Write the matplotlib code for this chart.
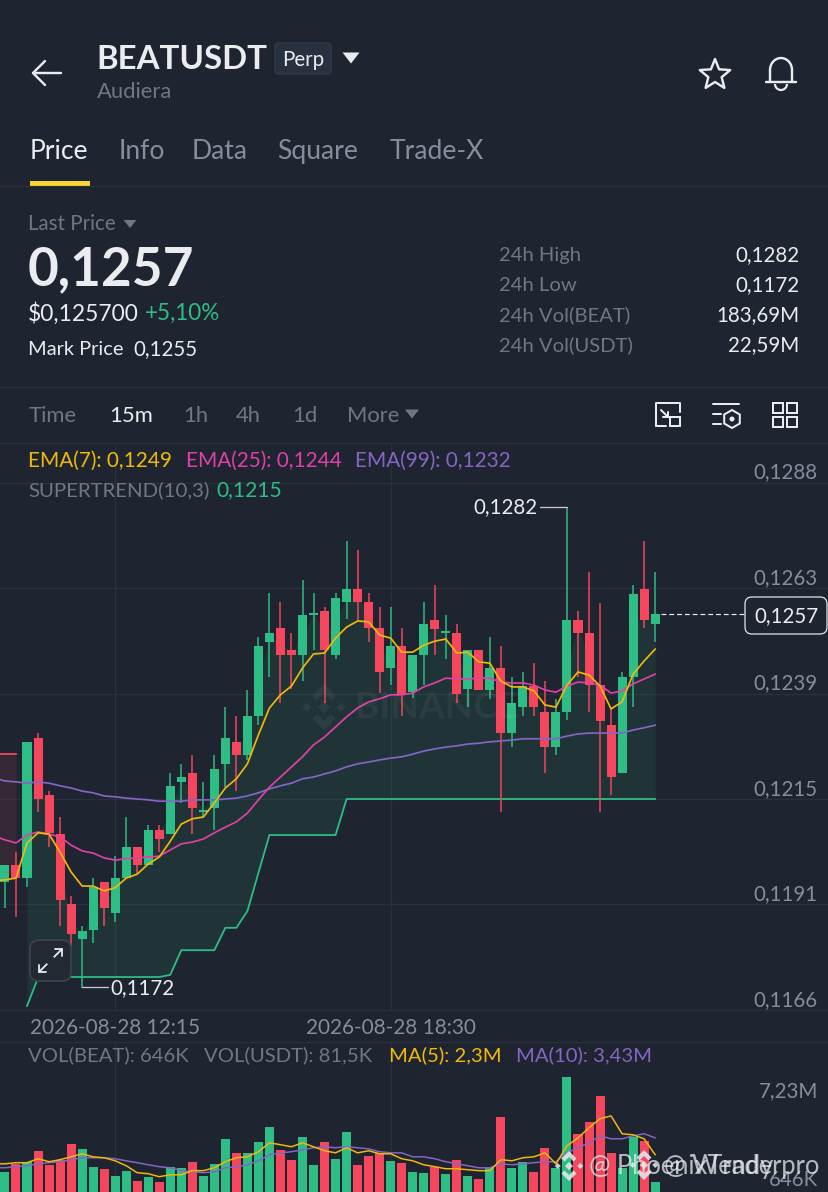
import numpy as np
import matplotlib
matplotlib.use('Agg')
import matplotlib.pyplot as plt
from matplotlib.patches import FancyBboxPatch, Polygon, Rectangle, Circle, Arc

plt.rcParams['font.family'] = ['Lato', 'DejaVu Sans']

# candles, first one is just off screen
opens = [0.11960, 0.119612, 0.119998, 0.119703, 0.122888, 0.121591, 0.120704, 0.119111, 0.118315, 0.118520, 0.119612, 0.118907, 0.119703, 0.120408, 0.119998, 0.120795, 0.120704, 0.121887, 0.122092, 0.121204, 0.121295, 0.122296, 0.122797, 0.122501, 0.123388, 0.125072, 0.125390, 0.124890, 0.124776, 0.125686, 0.125777, 0.124776, 0.125982, 0.126278, 0.125982, 0.125390, 0.124480, 0.124981, 0.123934, 0.124776, 0.125572, 0.125277, 0.125277, 0.124003, 0.124890, 0.123980, 0.124480, 0.123002, 0.123593, 0.124071, 0.123479, 0.122683, 0.123479, 0.125572, 0.125277, 0.124094, 0.123184, 0.122092, 0.124276, 0.126278, 0.125481]
highs = [0.11980, 0.119998, 0.120294, 0.122797, 0.123002, 0.121682, 0.121091, 0.119293, 0.118611, 0.119703, 0.119612, 0.120203, 0.121091, 0.120408, 0.120909, 0.120909, 0.122092, 0.122296, 0.122501, 0.121887, 0.122501, 0.123593, 0.123388, 0.123980, 0.125186, 0.126187, 0.125982, 0.125277, 0.126482, 0.126187, 0.125868, 0.126187, 0.127370, 0.127165, 0.126187, 0.125868, 0.125868, 0.125390, 0.124776, 0.125982, 0.126369, 0.125686, 0.125481, 0.124890, 0.124890, 0.125186, 0.124981, 0.124276, 0.124389, 0.124594, 0.124185, 0.123775, 0.128150, 0.125777, 0.126664, 0.125959, 0.123548, 0.124389, 0.126369, 0.127370, 0.126664]
lows = [0.11940, 0.119020, 0.118816, 0.119498, 0.121204, 0.120408, 0.118611, 0.118156, 0.117200, 0.118224, 0.118611, 0.118702, 0.119703, 0.119794, 0.119998, 0.120294, 0.120704, 0.121409, 0.120704, 0.121091, 0.120795, 0.121773, 0.121682, 0.122387, 0.123184, 0.124276, 0.123684, 0.124003, 0.124185, 0.124890, 0.123684, 0.124685, 0.125595, 0.125572, 0.125072, 0.123912, 0.124094, 0.123388, 0.123798, 0.124094, 0.124776, 0.124685, 0.123684, 0.123593, 0.123980, 0.123775, 0.121204, 0.122683, 0.123388, 0.123388, 0.122092, 0.122501, 0.123297, 0.124276, 0.123479, 0.121204, 0.121591, 0.122092, 0.123593, 0.125390, 0.125072]
closes = [0.11961, 0.119998, 0.119703, 0.122797, 0.121500, 0.120727, 0.119202, 0.118429, 0.118497, 0.119498, 0.119020, 0.119703, 0.120408, 0.119998, 0.120795, 0.120590, 0.121796, 0.122001, 0.121295, 0.121250, 0.122183, 0.122888, 0.122501, 0.123388, 0.124981, 0.125277, 0.124776, 0.124776, 0.125686, 0.125732, 0.124890, 0.126073, 0.126278, 0.125982, 0.125390, 0.124389, 0.124981, 0.123889, 0.124776, 0.125481, 0.125368, 0.125322, 0.123889, 0.124890, 0.123980, 0.124480, 0.123002, 0.123684, 0.124071, 0.123593, 0.122683, 0.123479, 0.125572, 0.125277, 0.124094, 0.123275, 0.122001, 0.124276, 0.126164, 0.125572, 0.125700]

# moving averages, in units of 0.0001
ema7 = [1196.4, 1196.6, 1197.0, 1205.0, 1207.3, 1207.0, 1202.9, 1198.4, 1195.2, 1195.2, 1194.1, 1194.8, 1197.0, 1197.9, 1200.2, 1201.8, 1205.4, 1209.3, 1210.5, 1210.9, 1214.1, 1217.5, 1219.6, 1223.0, 1229.6, 1235.7, 1238.7, 1240.7, 1244.8, 1248.0, 1248.2, 1251.6, 1254.1, 1255.5, 1255.3, 1252.3, 1251.6, 1248.4, 1248.4, 1250.0, 1250.9, 1251.4, 1248.2, 1248.4, 1246.2, 1245.9, 1241.8, 1240.5, 1240.5, 1239.6, 1236.4, 1235.9, 1240.9, 1243.9, 1243.2, 1240.7, 1235.5, 1237.1, 1243.4, 1246.4, 1249.1]
ema25 = [1206.6, 1205.7, 1205.0, 1206.8, 1207.5, 1207.0, 1206.4, 1204.5, 1203.2, 1202.7, 1201.6, 1201.1, 1201.4, 1201.6, 1201.8, 1202.0, 1203.4, 1204.8, 1205.2, 1205.9, 1207.3, 1208.6, 1209.8, 1211.8, 1214.8, 1217.7, 1220.0, 1222.3, 1224.6, 1227.3, 1229.1, 1231.4, 1233.7, 1235.7, 1237.1, 1237.8, 1238.7, 1238.7, 1239.1, 1240.5, 1241.4, 1242.5, 1242.3, 1242.3, 1242.5, 1242.5, 1241.6, 1241.4, 1241.4, 1240.9, 1239.8, 1239.3, 1240.7, 1241.6, 1241.4, 1240.9, 1239.1, 1239.6, 1241.2, 1242.3, 1243.4]
ema99 = [1219.8, 1219.1, 1218.9, 1218.6, 1218.9, 1218.6, 1218.0, 1217.5, 1216.8, 1216.4, 1215.7, 1215.5, 1215.2, 1215.0, 1214.8, 1214.5, 1214.5, 1214.5, 1214.8, 1214.8, 1214.8, 1215.0, 1215.2, 1215.7, 1216.4, 1217.3, 1218.0, 1218.6, 1219.6, 1220.0, 1220.7, 1221.4, 1222.3, 1223.0, 1223.4, 1223.9, 1224.3, 1224.6, 1225.2, 1225.9, 1226.4, 1226.8, 1227.1, 1227.5, 1227.7, 1228.0, 1228.2, 1228.4, 1228.7, 1228.7, 1228.7, 1228.7, 1229.3, 1229.8, 1230.0, 1230.0, 1230.0, 1230.0, 1230.7, 1231.2, 1231.8]
st_down = [1225.2, 1225.2, 1225.2]
st_up = [1167.9, 1174.3] + [1174.5] * 11 + [1175.0] + [1180.6] * 4 + [1185.7] * 2 + [1189.5, 1198.2] + [1206.8] * 7 + [1215.0] * 29

# volume in millions
volume = [1.20, 1.27, 1.77, 1.90, 2.59, 1.71, 2.03, 3.03, 2.71, 1.59, 1.46, 1.02, 1.34, 0.71, 0.96, 0.65, 1.59, 1.52, 1.90, 1.02, 1.77, 3.34, 2.46, 2.46, 3.15, 4.09, 2.65, 2.03, 3.47, 1.71, 3.15, 2.09, 3.78, 1.71, 2.28, 2.46, 1.96, 1.84, 1.27, 1.21, 1.59, 1.15, 2.03, 1.02, 0.83, 1.59, 4.72, 1.52, 1.90, 1.27, 2.78, 1.52, 7.23, 3.66, 4.41, 6.04, 2.46, 1.52, 3.47, 3.21, 0.646]
ma5 = [1.77, 1.77, 1.84, 1.84, 2.09, 1.90, 2.03, 2.21, 2.40, 2.21, 2.15, 1.96, 1.65, 1.21, 1.15, 0.96, 1.08, 1.08, 1.34, 1.34, 1.52, 1.90, 2.15, 2.21, 2.53, 3.09, 2.97, 2.84, 3.09, 2.84, 2.59, 2.46, 2.78, 2.46, 2.59, 2.40, 2.40, 2.09, 1.96, 1.71, 1.59, 1.46, 1.46, 1.40, 1.34, 1.34, 2.03, 1.96, 2.15, 2.21, 2.46, 1.77, 2.90, 3.40, 4.03, 4.60, 4.78, 3.66, 3.59, 3.34, 2.34]
ma10 = [1.52, 1.52, 1.59, 1.65, 1.77, 1.84, 1.90, 2.03, 2.15, 2.15, 2.15, 2.09, 1.96, 1.84, 1.71, 1.59, 1.52, 1.34, 1.27, 1.21, 1.27, 1.52, 1.59, 1.71, 1.96, 2.34, 2.46, 2.53, 2.65, 2.78, 2.84, 2.78, 2.84, 2.78, 2.71, 2.53, 2.46, 2.46, 2.21, 2.21, 2.09, 1.90, 1.77, 1.65, 1.52, 1.52, 1.77, 1.71, 1.77, 1.84, 1.90, 1.90, 2.46, 2.78, 3.09, 3.53, 3.34, 3.34, 3.53, 3.66, 3.40]

price_ticks = [0.1287, 0.1263, 0.1239, 0.1215, 0.1191, 0.1167]
price_labels = ['0,1288', '0,1263', '0,1239', '0,1215', '0,1191', '0,1166']
time_ticks = [8, 33]
time_labels = ['2026-08-28 12:15', '2026-08-28 18:30']
vol_ticks = [7.23, 0.646]
vol_labels = ['7,23M', '646K']
stat_names = ['24h High', '24h Low', '24h Vol(BEAT)', '24h Vol(USDT)']
stat_values = ['0,1282', '0,1172', '183,69M', '22,59M']

BG = '#1f2530'
GRID = '#2b313c'
GREEN = '#2ebd85'
RED = '#f6465d'
YELLOW = '#f0b90b'
PINK = '#e040a8'
PURPLE = '#8466c4'
GREY = '#848e9c'
DIM = '#6f7785'
WHITE = '#eaecef'

W, H = 828, 1192
fig = plt.figure(figsize=(W / 72, H / 72), dpi=72, facecolor=BG)

x = np.arange(-3, 58)
opens, highs, lows, closes = map(np.array, (opens, highs, lows, closes))
ema7 = np.array(ema7) / 1e4
ema25 = np.array(ema25) / 1e4
ema99 = np.array(ema99) / 1e4
st_down = np.array(st_down) / 1e4
st_up = np.array(st_up) / 1e4
body_mid = (opens + closes) / 2
up = closes >= opens
colors = np.where(up, GREEN, RED)

px_left = -27 / 11.02
px_right = (W - 27) / 11.02


def price_at(y):
    return 0.1215 + (799 - y) * 2.275e-5


# ---------- price pane ----------
ax = fig.add_axes([0, 1 - 1011 / H, 1, 568 / H], facecolor='none')
ax.set_xlim(px_left, px_right)
ax.set_ylim(price_at(1011), price_at(443))
ax.set_yticks(price_ticks)
ax.set_xticks(time_ticks)
ax.grid(True, color=GRID, lw=1.2)
ax.set_axisbelow(True)
ax.tick_params(length=0, labelleft=False, labelbottom=False)
for s in ax.spines.values():
    s.set_visible(False)

# supertrend band runs up to the middle of the candle body
ax.fill_between(x[:3], st_down, body_mid[:3], color=RED, alpha=0.1, lw=0)
ax.fill_between(x[3:], st_up, body_mid[3:], color=GREEN, alpha=0.1, lw=0)
ax.plot(x[:3], st_down, color=RED, lw=1.8)
ax.plot(x[3:], st_up, color=GREEN, lw=1.8)

ax.vlines(x, lows, highs, colors=colors, lw=1.5)
ax.bar(x, np.abs(closes - opens), bottom=np.minimum(opens, closes), width=0.82, color=colors)

ax.plot(x, ema99, color=PURPLE, lw=1.7)
ax.plot(x, ema25, color=PINK, lw=1.7)
ax.plot(x, ema7, color=YELLOW, lw=1.7)

# last price dashed line
ax.plot([x[-1] + 0.5, (744 - 27) / 11.02], [closes[-1]] * 2, color=WHITE, lw=1.2, ls=(0, (4, 2.5)))

for tick, label in zip(price_ticks, price_labels):
    ax.annotate(label, (1, tick), xycoords=('axes fraction', 'data'), xytext=(-10, 10),
                textcoords='offset pixels', ha='right', va='center', fontsize=20.5, color=GREY)

# ---------- volume pane ----------
vax = fig.add_axes([0, 0, 1, 150 / H], facecolor='none')
vax.set_xlim(px_left, px_right)
vax.set_ylim(0, 9.42)
vax.set_xticks(time_ticks)
vax.set_yticks([])
vax.grid(True, axis='x', color=GRID, lw=1.2)
vax.set_axisbelow(True)
vax.tick_params(length=0, labelbottom=False)
for s in vax.spines.values():
    s.set_visible(False)
vax.bar(x, volume, width=0.82, color=colors)
vax.plot(x, ma10, color=PURPLE, lw=1.5)
vax.plot(x, ma5, color=YELLOW, lw=1.5)

# ---------- everything else, in screen pixels ----------
ui = fig.add_axes([0, 0, 1, 1], facecolor='none')
ui.set_xlim(0, W)
ui.set_ylim(H, 0)
ui.axis('off')


def txt(px, py, s, size=20, color=WHITE, weight='normal', ha='left', **kw):
    return ui.text(px, py + 1.5, s, fontsize=size, color=color, fontweight=weight, ha=ha, va='center', **kw)


def line(xs, ys, color=WHITE, lw=2.2, **kw):
    ui.plot(xs, ys, color=color, lw=lw, solid_capstyle='round', solid_joinstyle='round', **kw)


def tri(px, py, w, h, color=WHITE):
    ui.add_patch(Polygon([(px - w / 2, py - h / 2), (px + w / 2, py - h / 2), (px, py + h / 2)], color=color, lw=0))


def logo(px, py, r, alpha, color=WHITE):
    # diamond mark: centre, two side dots, top and bottom chevrons
    for cx, cy, k in ((0, 0, 0.27), (-0.75, 0, 0.2), (0.75, 0, 0.2)):
        ui.add_patch(Polygon([(px + cx * r, py - k * r), (px + cx * r + k * r, py), (px + cx * r, py + k * r),
                              (px + cx * r - k * r, py)], color=color, alpha=alpha, lw=0))
    for sgn in (-1, 1):
        ui.add_patch(Polygon([(px, py + sgn * r), (px + 0.5 * r, py + sgn * 0.5 * r), (px + 0.3 * r, py + sgn * 0.3 * r),
                              (px, py + sgn * 0.6 * r), (px - 0.3 * r, py + sgn * 0.3 * r), (px - 0.5 * r, py + sgn * 0.5 * r)],
                             color=color, alpha=alpha, lw=0))


for yy in (186, 387, 443, 1042):
    ui.plot([0, W], [yy, yy], color=GRID, lw=1.2)

# header
line([33, 61], [73, 73], lw=2.4)
line([45, 33, 45], [61, 73, 85], lw=2.4)
txt(96, 58, 'BEATUSDT', 33, WHITE, 'bold')
ui.add_patch(FancyBboxPatch((275, 43), 56, 31, boxstyle='round,pad=0,rounding_size=3', fc='#283140', ec='#333c49', lw=1.2))
txt(303, 58, 'Perp', 20.5, WHITE, ha='center')
tri(351, 58, 17, 11)
txt(97, 91, 'Audiera', 22, DIM)
# star
ang = np.deg2rad(np.arange(10) * 36 - 90)
rad = np.where(np.arange(10) % 2 == 0, 16, 7)
ui.add_patch(Polygon(np.c_[715 + rad * np.cos(ang), 75 + rad * np.sin(ang)], fill=False, ec=WHITE, lw=2.4, joinstyle='round'))
# bell
bt = np.linspace(np.pi, 2 * np.pi, 20)
bx = np.r_[770, 770, 781 + 11 * np.cos(bt), 792, 792]
by = np.r_[81, 71, 70 + 12 * np.sin(bt), 71, 81]
line(bx, by, lw=2.4)
line([766, 796], [82, 82], lw=2.4)
ui.add_patch(Arc((781, 84), 12, 12, theta1=0, theta2=180, ec=WHITE, lw=2.2))

# tabs
for px, s, c in ((30, 'Price', WHITE), (119, 'Info', GREY), (192, 'Data', GREY), (277, 'Square', GREY), (390, 'Trade-X', GREY)):
    txt(px, 150, s, 26.5, c)
ui.add_patch(Rectangle((30, 181), 60, 5, color='#fcd535', lw=0))

# price block
txt(28, 223, 'Last Price', 20.5, DIM)
tri(130, 224, 13, 8, DIM)
txt(28, 268, '0,1257', 53, WHITE, 'bold')
txt(28, 312, '$0,125700', 22.7, WHITE)
txt(145, 312, '+5,10%', 22.5, GREEN)
txt(28, 348, 'Mark Price', 20, WHITE)
txt(133, 348, '0,1255', 20.5, WHITE)
for yy, name, value in zip((254, 284, 314, 344), stat_names, stat_values):
    txt(499, yy, name, 20.2, DIM)
    txt(799, yy, value, 20.5, WHITE, ha='right')

# interval row
for px, s, c in ((29, 'Time', DIM), (109, '15m', WHITE), (183, '1h', DIM), (236, '4h', DIM), (292, '1d', DIM), (347, 'More', DIM)):
    txt(px, 414, s, 22, c)
tri(412, 414, 14, 9, DIM)

# toolbar icons
line([662, 656, 656, 680, 680], [426, 426, 403, 403, 412], lw=2)
line([656, 666], [426, 426], lw=2)
ui.add_patch(Rectangle((670, 417), 10, 9, fill=False, ec=WHITE, lw=2))
line([661, 668], [410, 417], lw=2)
line([663, 668, 668], [417, 417, 412], lw=2)
line([713, 739], [404, 404], lw=2)
line([713, 721], [414, 414], lw=2)
line([713, 721], [424, 424], lw=2)
hex_a = np.deg2rad(np.arange(6) * 60 + 30)
ui.add_patch(Polygon(np.c_[732 + 9 * np.cos(hex_a), 419 + 9 * np.sin(hex_a)], fill=False, ec=WHITE, lw=2))
ui.add_patch(Circle((732, 419), 2.5, color=WHITE, lw=0))
for px in (773, 787):
    for py in (403, 417):
        ui.add_patch(Rectangle((px, py), 10, 10, fill=False, ec=WHITE, lw=2))

# chart legend
txt(28, 459, 'EMA(7): 0,1249', 20.7, YELLOW)
txt(186, 459, 'EMA(25): 0,1244', 20.7, PINK)
txt(355, 459, 'EMA(99): 0,1232', 20.7, PURPLE)
txt(28, 489, 'SUPERTREND(10,3)', 20.4, DIM)
txt(216, 489, '0,1215', 21, GREEN)

# high / low tags
line([540, 567], [507, 507], color='#c8ccd2', lw=1.3)
txt(538, 506, '0,1282', 20.5, WHITE, ha='right')
line([82, 108], [987, 987], color='#c8ccd2', lw=1.3)
txt(110, 987, '0,1172', 20.5, WHITE)

# last price tag
ui.add_patch(FancyBboxPatch((745, 597), 82, 37, boxstyle='round,pad=0,rounding_size=7', fc=BG, ec=WHITE, lw=1.2))
txt(786, 615, '0,1257', 20.5, WHITE, ha='center')

# zoom button
ui.add_patch(FancyBboxPatch((30, 940), 41, 41, boxstyle='round,pad=0,rounding_size=9', fc='#232933', ec='#3a404b', lw=2))
line([39, 62], [972, 949], lw=1.8)
line([39, 39, 46], [965, 972, 972], lw=1.8)
line([55, 62, 62], [949, 949, 956], lw=1.8)
ui.add_patch(Rectangle((47, 957), 7, 7, color='#232933', lw=0, zorder=3))

# time axis
for tick, label in zip(time_ticks, time_labels):
    txt(27 + 11.02 * tick, 1026, label, 20.7, GREY, ha='center')

# volume legend
txt(28, 1054, 'VOL(BEAT): 646K', 20.2, DIM)
txt(204, 1054, 'VOL(USDT): 81,5K', 20.2, DIM)
txt(389, 1054, 'MA(5): 2,3M', 20.2, YELLOW)
txt(516, 1054, 'MA(10): 3,43M', 20.2, PURPLE)
for tick, label, yy in zip(vol_ticks, vol_labels, (1090, 1179)):
    txt(818, yy, label, 20.5, GREY, ha='right')

# faint exchange mark
logo(324, 707, 23, 0.06)
txt(355, 706, 'BINANCE', 37, WHITE, 'bold', alpha=0.05)

# screenshot watermarks
for px, py in ((569, 1166), (644, 1165)):
    logo(px, py, 15, 0.85)
txt(589, 1165, '@ PhoenixTraderpro', 25.5, WHITE, alpha=0.75)
txt(664, 1165, '@ Wendy', 25.5, WHITE, alpha=0.75)

fig.savefig('out.png', dpi=72, facecolor=BG)
